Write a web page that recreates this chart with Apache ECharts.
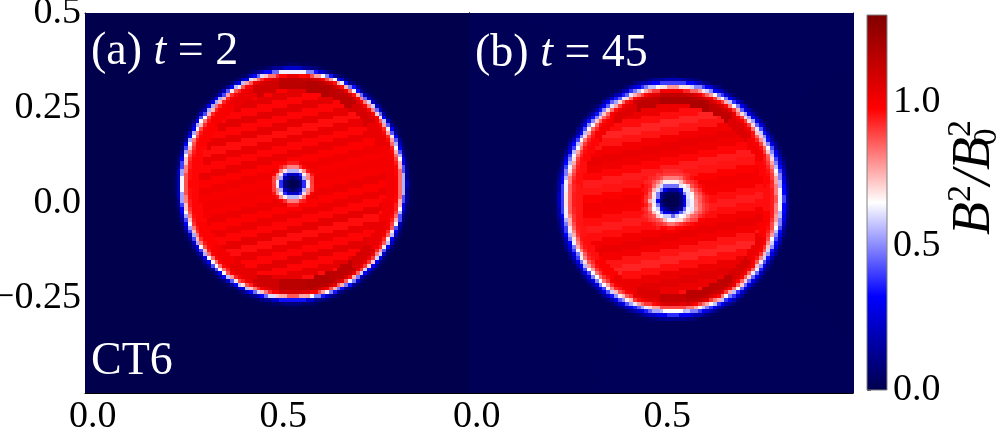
<!DOCTYPE html>
<html>
<head>
<meta charset="utf-8">
<script src="https://cdn.jsdelivr.net/npm/echarts@6/dist/echarts.min.js"></script>
<style>
  html, body { margin: 0; padding: 0; background: #fff; }
  #chart { width: 1000px; height: 427px; }
</style>
</head>
<body>
<div id="chart"></div>
<script>
const serif = '"Liberation Serif", "DejaVu Serif", serif'

// seismic colour map, spread evenly over 0 .. 1.3
const cmap = ['#00004c', '#0000ff', '#ffffff', '#ff0000', '#800000']
const vMin = 0
const vMax = 1.3

// tick values
const xMajor = [0, 0.5]
const xMinor = [0.125, 0.25, 0.375, 0.625, 0.75, 0.875]
const barTicks = [0, 0.5, 1.0]

// cells of the box (x -0.02..0.99, y -0.5..0.5)
const cell = 0.01
const nx = 101
const ny = 100
const xFirst = -0.015
const yFirst = -0.495

// ring of each panel: centre, half axes, centre of the hole
const centreA = [0.524, 0.048]
const radiusA = [0.291, 0.298]
const holeA = [0.525, 0.05]
const centreB = [0.514, 0.011]
const radiusB = [0.284, 0.296]
const holeB = [0.512, 0.007]

// B^2/B0^2 across the rim, rho = 0.90, 0.91 ... 1.10 (rho = 1 on the rim)
const rimA = [1, 1, 1, 0.99, 0.97, 0.94, 0.9, 0.84, 0.75, 0.66, 0.55, 0.42, 0.3, 0.2, 0.12, 0.07, 0.04, 0.02, 0.01, 0, 0]
const rimB = [1, 0.99, 0.98, 0.96, 0.93, 0.9, 0.85, 0.79, 0.72, 0.66, 0.58, 0.5, 0.42, 0.34, 0.27, 0.21, 0.16, 0.11, 0.07, 0.04, 0.02]

// around the central hole, distance 0, 0.005, 0.01 ...
const holeProfA = [0, 0, 0.02, 0.05, 0.1, 0.22, 0.38, 0.55, 0.68, 0.8, 0.9, 0.96, 1]
const holeProfB = [0, 0, 0, 0.01, 0.03, 0.07, 0.15, 0.3, 0.48, 0.62, 0.68, 0.76, 0.86, 0.92, 0.95, 0.97, 0.98, 1]

// pale patch right of the hole in (b), distance 0, 0.01 ... from haloCentreB
const haloB = [0.84, 0.85, 0.87, 0.89, 0.92, 0.95, 0.98, 1]
const haloCentreB = [0.55, 0.0]

// ripples inside the disk, across the stripes, s = -0.40, -0.38 ... 0.40
const stripesA = [1.0, 1.02, 1.05, 0.98, 1.06, 0.97, 1.05, 0.96, 1.04, 0.97, 1.05, 0.97, 1.03, 0.96, 1.04, 0.97, 1.02, 0.98, 1.02, 0.99, 1.0,
  0.99, 1.01, 0.98, 1.03, 0.97, 1.03, 0.96, 1.04, 0.97, 1.05, 0.97, 1.05, 0.98, 1.06, 0.99, 1.07, 1.02, 1.06, 1.02, 1.0]
const stripesB = [1.0, 1.04, 1.08, 1.06, 1.0, 0.95, 0.93, 0.96, 1.02, 1.05, 1.02, 0.96, 0.93, 0.95, 1.0, 1.03, 1.0, 0.96, 0.94, 0.96, 0.99,
  1.0, 0.98, 0.95, 0.94, 0.97, 1.01, 1.03, 1.0, 0.95, 0.93, 0.96, 1.02, 1.05, 1.03, 0.98, 1.0, 1.05, 1.08, 1.05, 1.0]
const tiltA = 0.25
const tiltB = 0.2

// just inside the rim, angle 0, 15 ... 345 degrees
const edgeA = [1.0, 1.0, 1.03, 1.08, 1.14, 1.17, 1.15, 1.1, 1.03, 0.99, 0.98, 0.97, 0.97, 0.97, 0.98, 1.0, 1.04, 1.1, 1.15, 1.17, 1.14, 1.08, 1.03, 1.0]
const edgeB = [0.96, 0.97, 1.0, 1.06, 1.14, 1.18, 1.18, 1.14, 1.06, 1.0, 0.97, 0.96, 0.95, 0.95, 0.96, 0.98, 1.02, 1.07, 1.12, 1.15, 1.14, 1.08, 1.02, 0.98]

function pick(arr, start, step, v) {
  let k = Math.round((v - start) / step)
  if (k < 0) k = 0
  if (k > arr.length - 1) k = arr.length - 1
  return arr[k]
}

function buildField(centre, radius, hole, holeProf, rim, edge, stripes, tilt, halo, haloCentre) {
  const out = []
  for (let i = 0; i < nx; i++) {
    for (let j = 0; j < ny; j++) {
      const x = +(xFirst + i * cell).toFixed(3)
      const y = +(yFirst + j * cell).toFixed(3)
      const dx = (x - centre[0]) / radius[0]
      const dy = (y - centre[1]) / radius[1]
      const rho = Math.hypot(dx, dy)
      let v
      if (rho < 0.84) {
        v = pick(stripes, -0.4, 0.02, (y - centre[1]) - tilt * (x - centre[0]))
      } else {
        let a = Math.atan2(dy, dx) * 180 / Math.PI
        if (a < 0) a += 360
        v = edge[Math.round(a / 15) % 24]
      }
      v *= pick(rim, 0.9, 0.01, rho)
      const dh = Math.hypot(x - hole[0], y - hole[1])
      v *= pick(holeProf, 0, 0.005, dh)
      if (halo && dh > 0.05) v *= pick(halo, 0, 0.01, Math.hypot(x - haloCentre[0], y - haloCentre[1]))
      out.push([x, y, +v.toFixed(3)])
    }
  }
  return out
}

const fieldA = buildField(centreA, radiusA, holeA, holeProfA, rimA, edgeA, stripesA, tiltA)
const fieldB = buildField(centreB, radiusB, holeB, holeProfB, rimB, edgeB, stripesB, tiltB, haloB, haloCentreB)

function renderCell(params, api) {
  const x = api.value(0)
  const y = api.value(1)
  const p0 = api.coord([x - cell / 2, y + cell / 2])
  const p1 = api.coord([x + cell / 2, y - cell / 2])
  const left = Math.round(p0[0])
  const top = Math.round(p0[1])
  return {
    type: 'rect',
    silent: true,
    shape: { x: left, y: top, width: Math.round(p1[0]) - left, height: Math.round(p1[1]) - top },
    style: { fill: api.visual('color') }
  }
}

function renderBar(params, api) {
  const lo = api.coord([0, api.value(0)])
  const hi = api.coord([1, api.value(1)])
  const stops = cmap.map((c, k) => ({ offset: k / (cmap.length - 1), color: c }))
  return {
    type: 'rect',
    silent: true,
    shape: { x: lo[0], y: hi[1], width: hi[0] - lo[0], height: lo[1] - hi[1] },
    style: { fill: new echarts.graphic.LinearGradient(0, 1, 0, 0, stops), stroke: '#808080', lineWidth: 1 }
  }
}

const tickStyle = { color: '#000', width: 1 }
const labelStyle = { fontFamily: serif, fontSize: 38, color: '#000' }

function yLabel(v) {
  if (v === -0.5) return ''
  const s = Math.abs(v) === 0.25 ? v.toFixed(2) : v.toFixed(1)
  return s.replace('-', '\u2212')
}

// 4 x axes and 2 y axes for one panel
function panelAxes(g, withYLabels) {
  const xs = []
  ;['bottom', 'top'].forEach(pos => {
    xs.push({
      gridIndex: g, type: 'value', position: pos, min: -0.02, max: 0.987,
      axisLine: { show: true, onZero: false, lineStyle: tickStyle },
      axisTick: { show: true, inside: true, length: 15, customValues: xMajor, lineStyle: tickStyle },
      axisLabel: { show: pos === 'bottom', customValues: xMajor, margin: 5, formatter: v => v.toFixed(1), ...labelStyle },
      splitLine: { show: false }
    })
  })
  ;['bottom', 'top'].forEach(pos => {
    xs.push({
      gridIndex: g, type: 'value', position: pos, min: -0.02, max: 0.987,
      axisLine: { show: false },
      axisTick: { show: true, inside: true, length: 8, customValues: xMinor, lineStyle: tickStyle },
      axisLabel: { show: false },
      splitLine: { show: false }
    })
  })
  const ys = ['left', 'right'].map(pos => ({
    gridIndex: g, type: 'value', position: pos, min: -0.5, max: 0.5, interval: 0.25,
    axisLine: { show: true, onZero: false, lineStyle: tickStyle },
    axisTick: { show: true, inside: true, length: 15, lineStyle: tickStyle },
    minorTick: { show: true, splitNumber: 4, length: 8, lineStyle: tickStyle },
    axisLabel: { show: withYLabels && pos === 'left', margin: 4, formatter: yLabel, ...labelStyle },
    splitLine: { show: false },
    minorSplitLine: { show: false }
  }))
  return { xs, ys }
}

const axA = panelAxes(0, true)
const axB = panelAxes(1, false)

const panelText = { fill: '#fff', fontFamily: serif, fontSize: 46, verticalAlign: 'middle' }
const italicWhite = { i: { fontFamily: serif, fontSize: 46, fontStyle: 'italic', fill: '#fff' } }

const chart = echarts.init(document.getElementById('chart'))

chart.setOption({
  animation: false,
  backgroundColor: '#fff',
  grid: [
    { left: 85, top: 13, width: 384, height: 380, outerBoundsMode: 'none' },
    { left: 469, top: 13, width: 384, height: 380, outerBoundsMode: 'none' },
    { left: 867, top: 15, width: 20, height: 375, outerBoundsMode: 'none' }
  ],
  xAxis: [
    ...axA.xs,
    ...axB.xs,
    { gridIndex: 2, type: 'value', min: 0, max: 1, show: false }
  ],
  yAxis: [
    ...axA.ys,
    ...axB.ys,
    {
      gridIndex: 2, type: 'value', position: 'right', min: vMin, max: vMax,
      axisLine: { show: false },
      axisTick: { show: true, length: 4, customValues: barTicks, lineStyle: { color: '#555' } },
      axisLabel: { customValues: barTicks, margin: 6, formatter: v => v.toFixed(1), ...labelStyle },
      splitLine: { show: false },
      name: '{i|B}{s|2}{i|/B}{b|0}{s|2}',
      nameLocation: 'middle',
      nameRotate: 90,
      nameGap: 52,
      nameTextStyle: {
        fontFamily: serif, fontSize: 54, color: '#000',
        padding: [0, 0, 0, 50],
        rich: {
          i: { fontFamily: serif, fontSize: 54, fontStyle: 'italic', color: '#000', lineHeight: 60 },
          s: { fontFamily: serif, fontSize: 34, color: '#000', verticalAlign: 'top', lineHeight: 40 },
          b: { fontFamily: serif, fontSize: 34, color: '#000', verticalAlign: 'bottom', lineHeight: 34, width: 0 }
        }
      }
    }
  ],
  visualMap: {
    type: 'continuous', show: false, min: vMin, max: vMax,
    dimension: 2, seriesIndex: [0, 1],
    inRange: { color: cmap }
  },
  series: [
    { type: 'custom', xAxisIndex: 0, yAxisIndex: 0, clip: true, renderItem: renderCell, data: fieldA },
    { type: 'custom', xAxisIndex: 4, yAxisIndex: 2, clip: true, renderItem: renderCell, data: fieldB },
    { type: 'custom', xAxisIndex: 8, yAxisIndex: 4, renderItem: renderBar, data: [[vMin, vMax]] }
  ],
  graphic: [
    { type: 'text', x: 91, y: 52, z: 100, style: { text: '(a) {i|t}\u2005=\u20052', rich: italicWhite, ...panelText } },
    { type: 'text', x: 475, y: 54, z: 100, style: { text: '(b) {i|t}\u2005=\u200545', rich: italicWhite, ...panelText } },
    { type: 'text', x: 91, y: 362, z: 100, style: { text: 'CT6', ...panelText } }
  ]
})
</script>
</body>
</html>
